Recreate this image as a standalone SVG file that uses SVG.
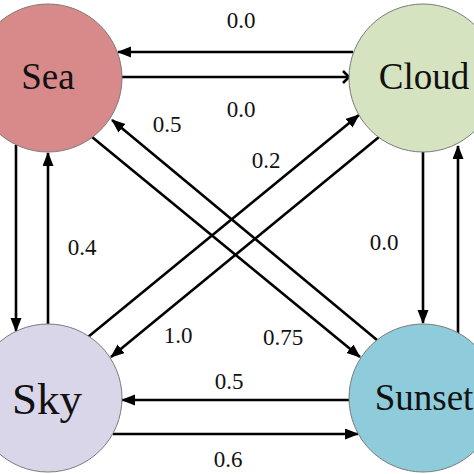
<svg xmlns="http://www.w3.org/2000/svg" width="474" height="474" viewBox="0 0 474 474">
<style>
.node circle{stroke:#7a7a7a;stroke-width:1}
.node text{font-family:"Liberation Serif","Times New Roman",serif;text-anchor:middle;fill:#111}
.edge{stroke:#000;stroke-width:2.6;fill:none;marker-end:url(#arr)}
.lbl{font-family:"Liberation Serif","Times New Roman",serif;font-size:23px;text-anchor:middle;fill:#111}
</style>
<defs>
<marker id="arr" markerUnits="userSpaceOnUse" markerWidth="14" markerHeight="12" refX="13" refY="5.5" orient="auto" viewBox="0 0 14 12">
<path d="M0,0 L14,5.5 L0,11 z" fill="#000"/>
</marker>
<marker id="chev" markerUnits="userSpaceOnUse" markerWidth="10" markerHeight="14" refX="7" refY="7" orient="auto" viewBox="0 0 10 14">
<path d="M1,1 L7,7 L1,13" fill="none" stroke="#000" stroke-width="2.6"/>
</marker>
</defs>
<rect width="474" height="474" fill="#fff"/>
<g id="connectors">
<line class="edge" x1="353" y1="52" x2="118" y2="52"/>
<line class="edge" x1="122" y1="77" x2="349" y2="77" style="marker-end:url(#chev)"/>
<line class="edge" x1="16" y1="145" x2="16" y2="331"/>
<line class="edge" x1="48" y1="324" x2="48" y2="153"/>
<line class="edge" x1="423" y1="152" x2="423" y2="323"/>
<line class="edge" x1="458" y1="334" x2="458" y2="146"/>
<line class="edge" x1="349" y1="400" x2="122" y2="400"/>
<line class="edge" x1="113" y1="434" x2="358" y2="434"/>
<line class="edge" x1="92" y1="137" x2="360" y2="357"/>
<line class="edge" x1="377" y1="340" x2="112" y2="120"/>
<line class="edge" x1="379" y1="137" x2="111" y2="357"/>
<line class="edge" x1="88" y1="337" x2="359" y2="115"/>
</g>
<g id="labels">
<text class="lbl" x="241" y="28">0.0</text>
<text class="lbl" x="241" y="117">0.0</text>
<text class="lbl" x="167" y="132">0.5</text>
<text class="lbl" x="266" y="168">0.2</text>
<text class="lbl" x="82" y="255">0.4</text>
<text class="lbl" x="384" y="250">0.0</text>
<text class="lbl" x="178" y="343">1.0</text>
<text class="lbl" x="283" y="345">0.75</text>
<text class="lbl" x="229" y="389">0.5</text>
<text class="lbl" x="228" y="467">0.6</text>
</g>
<g id="node-sea" class="node">
<circle cx="48" cy="78" r="74" fill="#d88a8a"/>
<text x="48" y="89" font-size="37">Sea</text>
</g>
<g id="node-cloud" class="node">
<circle cx="423" cy="78" r="74" fill="#d5e3c0"/>
<text x="424" y="89" font-size="37">Cloud</text>
</g>
<g id="node-sky" class="node">
<circle cx="48" cy="398" r="74" fill="#dad6ea"/>
<text x="47" y="414" font-size="45">Sky</text>
</g>
<g id="node-sunset" class="node">
<circle cx="423" cy="398" r="74" fill="#8ecbdb"/>
<text x="424" y="410" font-size="37">Sunset</text>
</g>
</svg>
